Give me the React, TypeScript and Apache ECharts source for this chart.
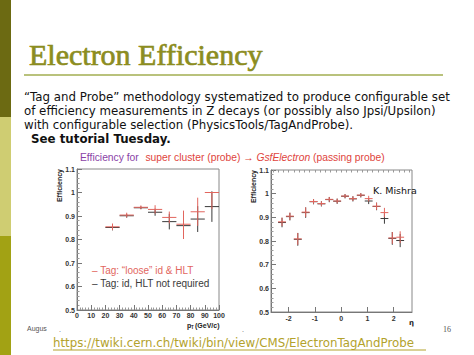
import React, { useEffect, useRef } from "react";
import * as echarts from "echarts";

// ---- data ----
const ptEdges = [20, 30, 40, 50, 60, 70, 80, 90, 100];
const ptLooseEff = [0.854, 0.904, 0.937, 0.928, 0.894, 0.865, 0.918, 1.0];
const ptLooseErrLo = [0.014, 0.01, 0.008, 0.018, 0.025, 0.063, 0.06, 0.07];
const ptLooseErrHi = [0.014, 0.01, 0.008, 0.018, 0.025, 0.058, 0.06, 0.0];
const ptNoTrigEff = [0.851, 0.901, 0.935, 0.916, 0.876, 0.859, 0.887, 0.94];
const ptNoTrigErr = [0.012, 0.008, 0.006, 0.015, 0.033, 0.035, 0.055, 0.065];

const etaEdges = [-2.4, -2.1, -1.8, -1.5, -1.2, -0.9, -0.6, -0.3, 0, 0.3, 0.6, 0.9, 1.2, 1.5, 1.8, 2.1, 2.4];
const etaLooseEff = [0.881, 0.905, 0.809, 0.922, 0.967, 0.958, 0.976, 0.969, 0.99, 0.979, 0.994, 0.979, 0.947, 0.92, 0.813, 0.816];
const etaLooseErr = [0.018, 0.015, 0.025, 0.02, 0.01, 0.01, 0.01, 0.01, 0.008, 0.01, 0.008, 0.012, 0.015, 0.02, 0.025, 0.025];
const etaNoTrigEff = [0.878, 0.903, 0.807, 0.92, 0.966, 0.957, 0.975, 0.968, 0.989, 0.978, 0.993, 0.969, 0.946, 0.895, 0.811, 0.802];
const etaNoTrigErr = [0.02, 0.016, 0.027, 0.022, 0.011, 0.011, 0.011, 0.011, 0.009, 0.011, 0.009, 0.013, 0.016, 0.022, 0.027, 0.028];

const etaTickLabels = [-2, -1, 0, 1, 2];

const bodyLines = [
  "\u201CTag and Probe\u201D methodology systematized to produce configurable set",
  "of efficiency measurements in Z decays (or possibly also Jpsi/Upsilon)",
  "with configurable selection (PhysicsTools/TagAndProbe).",
];
const linkText = "https://twiki.cern.ch/twiki/bin/view/CMS/ElectronTagAndProbe";

const RED = "#e2665e";
const BLK = "#3a3a3a";

function buildPoints(edges: number[], eff: number[], lo: number[], hi: number[]) {
  return eff.map((v, i) => {
    const c = (edges[i] + edges[i + 1]) / 2;
    const hw = (edges[i + 1] - edges[i]) / 2;
    return [c, v, hw, lo[i], hi[i]];
  });
}

function makeRender(color: string) {
  return (params: any, api: any) => {
    const x = api.value(0);
    const y = api.value(1);
    const hw = api.value(2);
    const el = api.value(3);
    const eh = api.value(4);
    const a = api.coord([x - hw, y]);
    const b = api.coord([x + hw, y]);
    const c = api.coord([x, y + eh]);
    const d = api.coord([x, y - el]);
    return {
      type: "group",
      children: [
        { type: "line", shape: { x1: a[0], y1: a[1], x2: b[0], y2: b[1] }, style: { stroke: color, lineWidth: 1 } },
        { type: "line", shape: { x1: c[0], y1: c[1], x2: d[0], y2: d[1] }, style: { stroke: color, lineWidth: 1 } },
      ],
    };
  };
}

const tickFont = { fontSize: 7, fontWeight: "bold" as const, color: "#333", fontFamily: "Liberation Sans" };

function yAxisDef(gridIndex: number) {
  return {
    gridIndex,
    type: "value",
    min: 0.5,
    max: 1.1,
    interval: 0.1,
    axisLine: { show: true, onZero: false, lineStyle: { color: "#777", width: 1 } },
    axisTick: { show: true, inside: true, length: 5, lineStyle: { color: "#777" } },
    minorTick: { show: true, splitNumber: 5, length: 2.5, lineStyle: { color: "#999" } },
    splitLine: { show: false },
    axisLabel: {
      ...tickFont,
      margin: 2,
      showMinLabel: true,
      showMaxLabel: true,
      formatter: (v: number) => String(Math.round(v * 10) / 10),
    },
  };
}

export default function App() {
  const ref = useRef<HTMLDivElement>(null);
  useEffect(() => {
    if (!ref.current) return;
    const chart = echarts.init(ref.current, null, { renderer: "svg" });

    const etaMinorTicks: number[] = [];
    for (let k = -13; k <= 13; k++) etaMinorTicks.push(Math.round(k * 2) / 10);

    const txt = (x: number, y: number, text: string, font: string, fill: string, align = "left", extra: any = {}, styleExtra: any = {}) => ({
      type: "text",
      x,
      y,
      style: { text, font, fill, align, verticalAlign: "middle", textAlign: align, textVerticalAlign: "middle", ...styleExtra },
      ...extra,
    });

    const graphic: any[] = [
      { type: "rect", shape: { x: 0, y: 0, width: 11, height: 117 }, style: { fill: "#6c6a12" } },
      { type: "rect", shape: { x: 0, y: 117, width: 11, height: 119 }, style: { fill: "#cfcd72" } },
      { type: "rect", shape: { x: 0, y: 236, width: 11, height: 119 }, style: { fill: "#a2a214" } },
      txt(29, 54, "Electron Efficiency", '30px "Liberation Serif"', "#8c8d1f", "left", {}, { stroke: "#8c8d1f", lineWidth: 0.7 }),
      { type: "line", shape: { x1: 24, y1: 75, x2: 443, y2: 75 }, style: { stroke: "#b9c27c", lineWidth: 2 } },
      ...bodyLines.map((l, i) => txt(24, 97 + i * 14, l, '11.8px "DejaVu Sans"', "#111")),
      txt(27, 139, " See tutorial Tuesday.", 'bold 11.8px "DejaVu Sans"', "#111"),
      {
        type: "text",
        x: 80,
        y: 157,
        style: {
          text: "{p|Efficiency for}  {r|super cluster (probe) \u2192 }{i|GsfElectron}{r| (passing probe)}",
          verticalAlign: "middle",
          textVerticalAlign: "middle",
          rich: {
            p: { fill: "#8a3fa6", color: "#8a3fa6", fontSize: 10.3, fontFamily: "Liberation Sans" },
            r: { fill: "#e0443c", color: "#e0443c", fontSize: 10.3, fontFamily: "Liberation Sans" },
            i: { fill: "#e0443c", color: "#e0443c", fontSize: 10.3, fontStyle: "italic", fontFamily: "Liberation Sans" },
          },
        },
      },
      txt(59, 169, "Efficiency", 'bold 7px "Liberation Sans"', "#222", "right", { rotation: Math.PI / 2 }),
      txt(253, 170, "Efficiency", 'bold 7px "Liberation Sans"', "#222", "right", { rotation: Math.PI / 2 }),
      txt(92, 270, "\u2013 Tag: \u201Cloose\u201D id & HLT", '10px "Liberation Sans"', RED),
      txt(92, 283, "\u2013 Tag: id, HLT not required", '10px "Liberation Sans"', BLK),
      txt(187, 325, "p", 'bold 7px "Liberation Sans"', "#222"),
      txt(191, 327, "T", 'bold 4.5px "Liberation Sans"', "#222"),
      txt(195, 325, "(GeV/c)", 'bold 7px "Liberation Sans"', "#222"),
      txt(409, 323, "\u03B7", 'bold 7px "DejaVu Sans"', "#222"),
      txt(373, 190, "K. Mishra", '9.5px "DejaVu Sans"', "#111"),
      txt(27, 328, "Augus", '7px "Liberation Sans"', "#555"),
      txt(59, 329, ".", '7px "Liberation Sans"', "#555"),
      txt(242, 329, ".", '7px "Liberation Sans"', "#555"),
      txt(443, 329, "16", '8px "Liberation Serif"', "#555"),
      txt(53, 343, linkText, '11.8px "DejaVu Sans"', "#b3a22c"),
      { type: "line", shape: { x1: 53, y1: 350, x2: 426, y2: 350 }, style: { stroke: "#b3a22c", lineWidth: 1 } },
    ];

    const option: any = {
      animation: false,
      backgroundColor: "#ffffff",
      grid: [
        { left: 77, top: 169, width: 142, height: 141, show: true, borderColor: "#888", borderWidth: 1, backgroundColor: "transparent" },
        { left: 271, top: 170, width: 141, height: 142, show: true, borderColor: "#888", borderWidth: 1, backgroundColor: "transparent" },
      ],
      xAxis: [
        {
          gridIndex: 0,
          type: "value",
          min: 0,
          max: 100,
          interval: 10,
          axisLine: { show: true, onZero: false, lineStyle: { color: "#777" } },
          axisTick: { show: true, inside: true, length: 5, lineStyle: { color: "#777" } },
          minorTick: { show: true, splitNumber: 5, length: 2.5, lineStyle: { color: "#999" } },
          splitLine: { show: false },
          axisLabel: { ...tickFont, margin: 2, showMinLabel: true, showMaxLabel: true },
        },
        {
          gridIndex: 1,
          type: "value",
          min: -2.67,
          max: 2.7,
          axisLine: { show: true, onZero: false, lineStyle: { color: "#777" } },
          axisTick: { show: true, inside: true, length: 5, customValues: etaTickLabels, lineStyle: { color: "#777" } },
          splitLine: { show: false },
          axisLabel: { ...tickFont, margin: 3, customValues: etaTickLabels },
        },
        {
          gridIndex: 1,
          type: "value",
          min: -2.67,
          max: 2.7,
          axisLine: { show: false, onZero: false },
          axisTick: { show: true, inside: true, length: 2.5, customValues: etaMinorTicks, lineStyle: { color: "#999" } },
          splitLine: { show: false },
          axisLabel: { show: false },
        },
      ],
      yAxis: [yAxisDef(0), yAxisDef(1)],
      graphic,
      series: [
        {
          type: "custom",
          xAxisIndex: 0,
          yAxisIndex: 0,
          clip: true,
          renderItem: makeRender(BLK),
          encode: { x: 0, y: 1 },
          data: buildPoints(ptEdges, ptNoTrigEff, ptNoTrigErr, ptNoTrigErr),
        },
        {
          type: "custom",
          xAxisIndex: 0,
          yAxisIndex: 0,
          clip: true,
          renderItem: makeRender(RED),
          encode: { x: 0, y: 1 },
          data: buildPoints(ptEdges, ptLooseEff, ptLooseErrLo, ptLooseErrHi),
        },
        {
          type: "custom",
          xAxisIndex: 1,
          yAxisIndex: 1,
          clip: true,
          renderItem: makeRender(BLK),
          encode: { x: 0, y: 1 },
          data: buildPoints(etaEdges, etaNoTrigEff, etaNoTrigErr, etaNoTrigErr),
        },
        {
          type: "custom",
          xAxisIndex: 1,
          yAxisIndex: 1,
          clip: true,
          renderItem: makeRender(RED),
          encode: { x: 0, y: 1 },
          data: buildPoints(etaEdges, etaLooseEff, etaLooseErr, etaLooseErr),
        },
      ],
    };
    chart.setOption(option);
    return () => chart.dispose();
  }, []);
  return <div ref={ref} style={{ position: "absolute", left: 0, top: 0, width: 474, height: 355 }} />;
}
